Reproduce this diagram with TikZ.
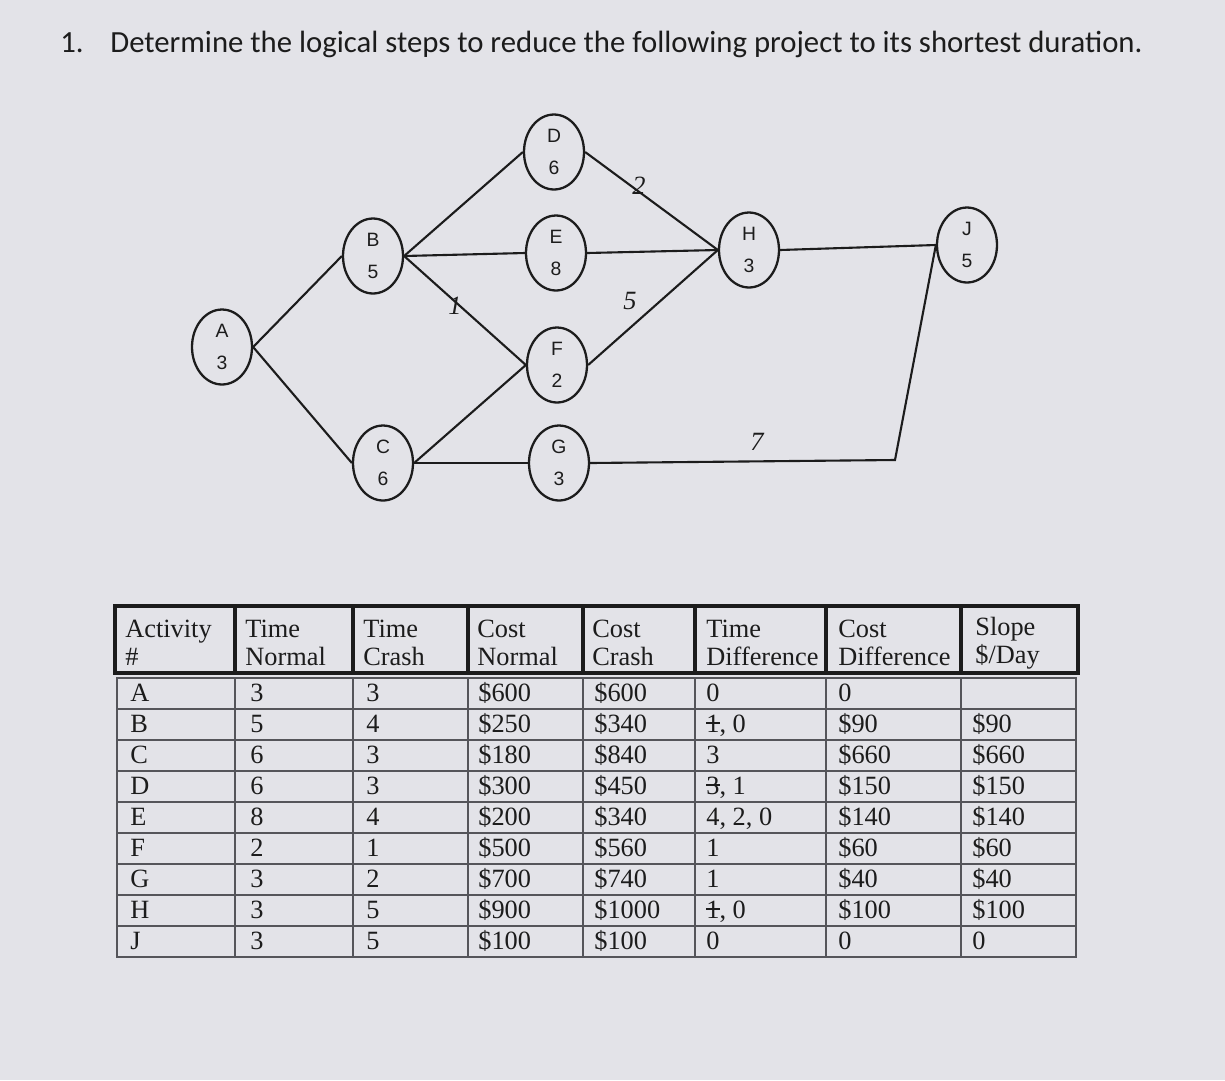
\documentclass[tikz,border=0pt]{standalone}
\usepackage{fontspec}
\setmainfont{Liberation Serif}
\newfontfamily\titlefont{Carlito}
\newfontfamily\netfont{Liberation Sans}
\usetikzlibrary{shapes.geometric}
\definecolor{Screen}{HTML}{E3E3E8}
\definecolor{Ink}{HTML}{1C1C1C}
\definecolor{Grid}{HTML}{55555A}
\newcommand{\crossout}[1]{\setbox0\hbox{#1}\rlap{\rule[0.33em]{\wd0}{0.7pt}}\box0}

\begin{document}
\begin{tikzpicture}[x=0.02cm,y=-0.02cm,
    act/.style={ellipse,draw=Ink,line width=1.3pt,minimum width=1.2cm,minimum height=1.5cm,
      inner sep=0pt,align=center,font=\netfont\fontsize{11}{18}\selectfont,text=Ink},
    link/.style={draw=Ink,line width=1.2pt},
    wt/.style={font=\itshape\fontsize{15}{15}\selectfont,text=Ink,inner sep=1pt},
    cell/.style={anchor=west,inner sep=0pt,text height=10pt,text depth=1pt,
      font=\fontsize{15}{16}\selectfont,text=Ink},
    head/.style={anchor=west,inner sep=0pt,align=left,
      font=\fontsize{15}{16}\selectfont,text=Ink}]
  \fill[Screen] (0,0) rectangle (1225,1080);
  \useasboundingbox (0,0) rectangle (1225,1080);

  % title
  \node[anchor=base west,inner sep=0pt,font=\titlefont\fontsize{17.5}{19}\selectfont,text=Ink] (num) at (60,52) {1.};
  \node[anchor=base west,inner sep=0pt,font=\titlefont\fontsize{17.5}{19}\selectfont,text=Ink] (title) at (110,52)
    {Determine the logical steps to reduce the following project to its shortest duration.};

  % network
  \node[act] (A) at (222,347) {A\\3};
  \node[act] (B) at (373,256) {B\\5};
  \node[act] (C) at (383,463) {C\\6};
  \node[act] (D) at (554,152) {D\\6};
  \node[act] (E) at (556,253) {E\\8};
  \node[act] (F) at (557,365) {F\\2};
  \node[act] (G) at (559,463) {G\\3};
  \node[act] (H) at (749,250) {H\\3};
  \node[act] (J) at (967,245) {J\\5};
  \coordinate (bend) at (895,460);

  \draw[link] (A.east) -- (B.west);
  \draw[link] (A.east) -- (C.west);
  \draw[link] (B.east) -- (D.west);
  \draw[link] (B.east) -- (E.west);
  \draw[link] (B.east) -- (F.west);
  \draw[link] (C.east) -- (F.west);
  \draw[link] (C.east) -- (G.west);
  \draw[link] (D.east) -- (H.west);
  \draw[link] (E.east) -- (H.west);
  \draw[link] (F.east) -- (H.west);
  \draw[link] (H.east) -- (J.west);
  \draw[link] (G.east) -- (bend) -- (J.west);

  \node[wt] (w1) at (455,306) {1};
  \node[wt] (w2) at (639,186) {2};
  \node[wt] (w5) at (630,301) {5};
  \node[wt] (w7) at (757,442) {7};

  % table
  \draw[Grid,line width=0.7pt] (117,678) rectangle (1076,957);
  \foreach \x in {235,353,468,583,695,826,961}
    \draw[Grid,line width=0.7pt] (\x,678) -- (\x,957);
  \foreach \k in {1,...,8}
    \draw[Grid,line width=0.7pt] (117,678+31*\k) -- (1076,678+31*\k);
  \draw[Ink,line width=1.8pt] (115,606) rectangle (1078,673);
  \foreach \x in {235,353,468,583,695,826,961}
    \draw[Ink,line width=1.8pt] (\x,606) -- (\x,673);

  \node[head] (h1) at (125,643) {Activity\\\#};
  \node[head] (h2) at (245,643) {Time\\Normal};
  \node[head] (h3) at (363,643) {Time\\Crash};
  \node[head] (h4) at (477,643) {Cost\\Normal};
  \node[head] (h5) at (592,643) {Cost\\Crash};
  \node[head] (h6) at (706,643) {Time\\Difference};
  \node[head] (h7) at (838,643) {Cost\\Difference};
  \node[head] (h8) at (975,643) {Slope\\\$/Day};

  \foreach \a/\b/\c/\d/\e/\f/\g/\h [count=\k] in {
      A/3/3/\$600/\$600/0/0/{},
      B/5/4/\$250/\$340/{\crossout{1}, 0}/\$90/\$90,
      C/6/3/\$180/\$840/3/\$660/\$660,
      D/6/3/\$300/\$450/{\crossout{3}, 1}/\$150/\$150,
      E/8/4/\$200/\$340/{4, 2, 0}/\$140/\$140,
      F/2/1/\$500/\$560/1/\$60/\$60,
      G/3/2/\$700/\$740/1/\$40/\$40,
      H/3/5/\$900/\$1000/{\crossout{1}, 0}/\$100/\$100,
      J/3/5/\$100/\$100/0/0/0}{
    \node[cell] (r\k c1) at (130,662.5+31*\k) {\a};
    \node[cell] (r\k c2) at (250,662.5+31*\k) {\b};
    \node[cell] (r\k c3) at (366,662.5+31*\k) {\c};
    \node[cell] (r\k c4) at (478,662.5+31*\k) {\d};
    \node[cell] (r\k c5) at (594,662.5+31*\k) {\e};
    \node[cell] (r\k c6) at (706,662.5+31*\k) {\f};
    \node[cell] (r\k c7) at (838,662.5+31*\k) {\g};
    \node[cell] (r\k c8) at (972,662.5+31*\k) {\h};
  }
\end{tikzpicture}
\end{document}
